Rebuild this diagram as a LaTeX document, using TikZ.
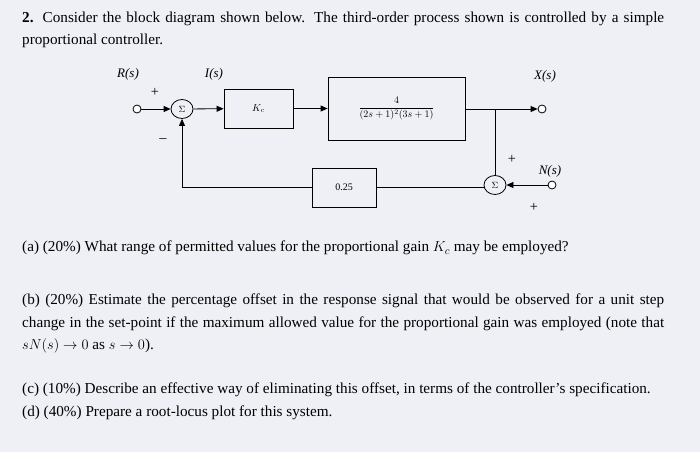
\documentclass[tikz,border=0pt]{standalone}
\usepackage{fontspec}
\setmainfont{Liberation Serif}
\usetikzlibrary{arrows.meta,shapes.geometric}
\definecolor{paper}{RGB}{238,240,246}
\begin{document}
\begin{tikzpicture}[x=1pt,y=-1pt,
  sumc/.style={draw,thick,ellipse,minimum width=22pt,minimum height=19pt,inner sep=0pt,font=\small},
  term/.style={draw,thick,circle,minimum size=8pt,inner sep=0pt,fill=white},
  sig/.style={thick,-{Triangle[length=7pt,width=6pt]}},
  lab/.style={font=\itshape\fontsize{13}{13}\selectfont},
  para/.style={anchor=north west,text width=642pt,align=justify,inner sep=0pt,font=\fontsize{15.2}{22.2}\selectfont}]
\fill[paper] (0,0) rectangle (700,452);
\useasboundingbox (0,0) rectangle (700,452);
\node[para] (q) at (22,12) {\textbf{2.} Consider the block diagram shown below. The third-order process shown is controlled by a simple proportional controller.};
% diagram
\node[term] (r) at (137,109) {};
\node[sumc] (s1) at (182,109) {$\Sigma$};
\node[draw,thick,minimum width=69pt,minimum height=39pt] (kc) at (258.5,108.5) {$K_c$};
\node[draw,thick,minimum width=137pt,minimum height=63pt,inner sep=0pt] (g) at (396.5,108.5) {$\displaystyle\frac{4}{(2s+1)^2(3s+1)}$};
\coordinate (br) at (495,109);
\node[term] (x) at (542,109) {};
\node[sumc] (s2) at (495,185) {$\Sigma$};
\node[term] (n) at (552,185) {};
\node[draw,thick,minimum width=64pt,minimum height=39pt] (h) at (344,187.5) {0.25};
\coordinate (fl) at (182,187.5);
\draw[sig] (r) -- (s1);
\draw[sig] (s1) -- (kc);
\draw[sig] (kc) -- (g);
\draw[thick] (g.east |- br) -- (br);
\draw[sig] (br) -- (x);
\draw[thick] (br) -- (s2);
\draw[sig] (n) -- (s2);
\draw[thick] (s2.west |- h) -- (h);
\draw[thick] (h) -- (fl);
\draw[sig] (fl) -- (s1);
\node[lab] (rl) at (128,74) {R(s)};
\node[lab] (il) at (214,74) {I(s)};
\node[lab] (xl) at (545,76) {X(s)};
\node[lab] (nl) at (550,171) {N(s)};
\node[font=\Large] (p1) at (155,92) {+};
\node[font=\Large] (m1) at (163,141) {--};
\node[font=\Large] (p2) at (512,159) {+};
\node[font=\Large] (p3) at (534,207) {+};
% questions
\node[para] (a) at (22,241) {(a) (20\%) What range of permitted values for the proportional gain $K_c$ may be employed?};
\node[para] (b) at (22,294) {(b) (20\%) Estimate the percentage offset in the response signal that would be observed for a unit step change in the set-point if the maximum allowed value for the proportional gain was employed (note that $sN(s)\to0$ as $s\to0$).};
\node[para] (c) at (22,383) {(c) (10\%) Describe an effective way of eliminating this offset, in terms of the controller's specification.};
\node[para] (d) at (22,406) {(d) (40\%) Prepare a root-locus plot for this system.};
\end{tikzpicture}
\end{document}
